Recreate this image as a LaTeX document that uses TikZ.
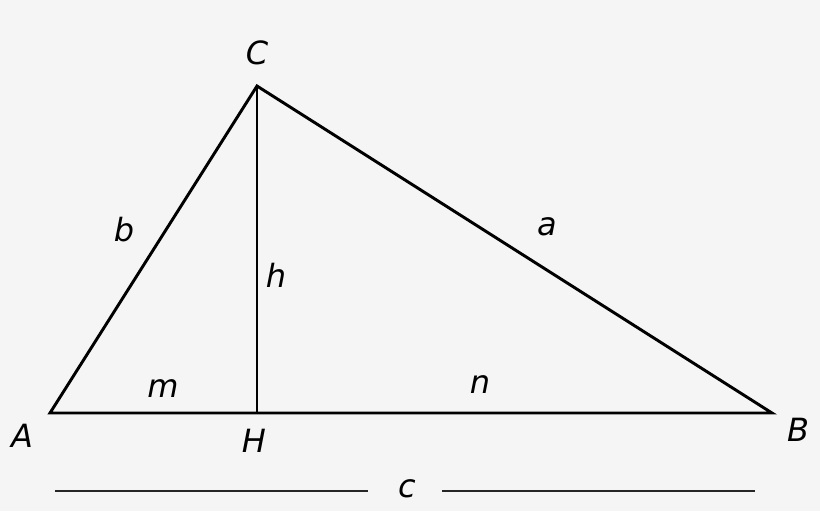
\documentclass[tikz,border=0pt]{standalone}
\usepackage{fontspec}
\setmainfont{DejaVu Sans}
\usepackage{tikz}

\begin{document}
\begin{tikzpicture}[x=0.75pt, y=-0.75pt]
      \tikzset{side/.style={line width=2.2pt, line join=miter}}
      \tikzset{height/.style={line width=1.5pt}}
      \tikzset{measure/.style={line width=1pt, black!85}}
      \tikzset{lbl/.style={font=\fontsize{24}{28}\selectfont\itshape, inner sep=0pt}}

      \fill[black!4] (0,0) rectangle (820,511);
      \useasboundingbox (0,0) rectangle (820,511);

      \coordinate (A) at (50,413);
      \coordinate (B) at (772,413);
      \coordinate (C) at (257,86);
      \coordinate (H) at (257,413);

      \draw[side] (A) -- (B) -- (C) -- cycle;
      \draw[height] (C) -- (H);

      \node[lbl] (lA) at (22,436) {A};
      \node[lbl] (lB) at (798,430) {B};
      \node[lbl] (lC) at (257,53) {C};
      \node[lbl] (lH) at (254,441) {H};
      \node[lbl] (la) at (547,227) {a};
      \node[lbl] (lb) at (124,230) {b};
      \node[lbl] (lh) at (276,275) {h};
      \node[lbl] (lm) at (163,389) {m};
      \node[lbl] (ln) at (480,385) {n};
      \node[lbl] (lc) at (407,489) {c};

      \coordinate (c1) at (55,491);
      \coordinate (c2) at (755,491);
      \draw[measure] (c1) -- (368,491);
      \draw[measure] (442,491) -- (c2);
    \end{tikzpicture}
\end{document}
